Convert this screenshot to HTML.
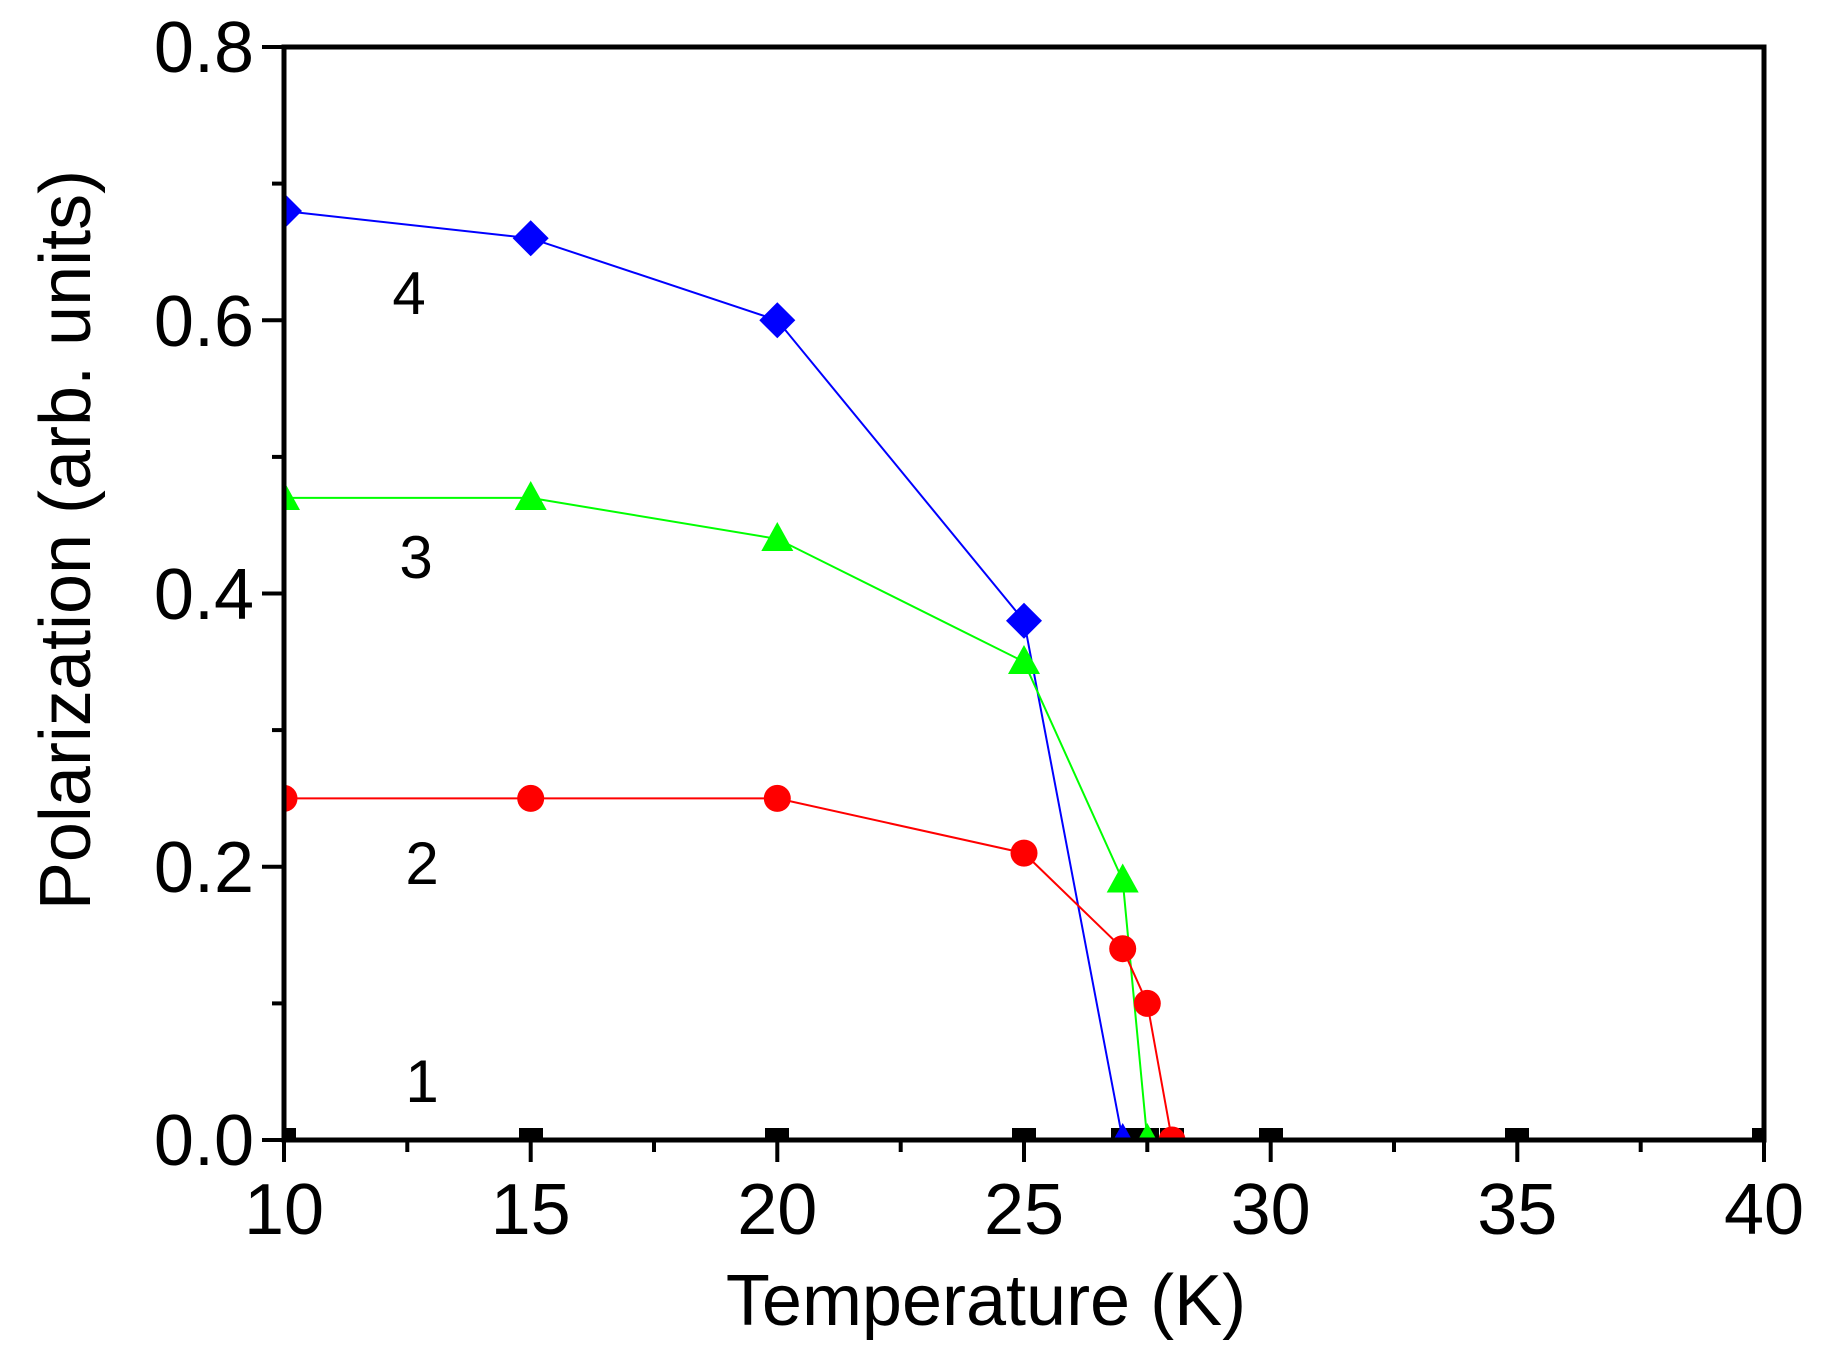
<!DOCTYPE html>
<html><head><style>body{margin:0;background:#fff}svg{display:block}</style></head><body>
<svg width="1829" height="1364" xmlns="http://www.w3.org/2000/svg" font-family="Liberation Sans, Arial, sans-serif">
<defs><clipPath id="c"><rect x="284" y="47" width="1480" height="1093"/></clipPath></defs>
<g clip-path="url(#c)">
<g fill="#000">
<rect x="272" y="1128" width="24" height="24"/><rect x="519" y="1128" width="24" height="24"/><rect x="765" y="1128" width="24" height="24"/><rect x="1012" y="1128" width="24" height="24"/><rect x="1111" y="1128" width="24" height="24"/><rect x="1135" y="1128" width="24" height="24"/><rect x="1160" y="1128" width="24" height="24"/><rect x="1259" y="1128" width="24" height="24"/><rect x="1505" y="1128" width="24" height="24"/><rect x="1752" y="1128" width="24" height="24"/>
</g>
<polyline fill="none" stroke="#0000ff" stroke-width="2" points="284,211 530.7,238.3 777.3,320.3 1024,620.8 1122.7,1140"/>
<g fill="#0000ff">
<polygon points="284,193 302,211 284,229 266,211"/>
<polygon points="530.7,220.3 548.7,238.3 530.7,256.3 512.7,238.3"/>
<polygon points="777.3,302.3 795.3,320.3 777.3,338.3 759.3,320.3"/>
<polygon points="1024,602.8 1042,620.8 1024,638.8 1006,620.8"/>
<polygon points="1122.7,1123 1138.7,1152 1106.7,1152"/>
</g>
<polyline fill="none" stroke="#00ff00" stroke-width="2" points="284,497.9 530.7,497.9 777.3,538.9 1024,661.8 1122.7,880.4 1147.3,1140"/>
<g fill="#00ff00">
<polygon points="284,481 300,510 268,510"/>
<polygon points="530.7,481 546.7,510 514.7,510"/>
<polygon points="777.3,522 793.3,551 761.3,551"/>
<polygon points="1024,645 1040,674 1008,674"/>
<polygon points="1122.7,863.5 1138.7,892.5 1106.7,892.5"/>
<polygon points="1147.3,1123 1163.3,1152 1131.3,1152"/>
</g>
<polyline fill="none" stroke="#ff0000" stroke-width="2" points="284,798.4 530.7,798.4 777.3,798.4 1024,853.1 1122.7,948.7 1147.3,1003.4 1172,1140"/>
<g fill="#ff0000">
<circle cx="284" cy="798.4" r="13.5"/><circle cx="530.7" cy="798.4" r="13.5"/><circle cx="777.3" cy="798.4" r="13.5"/><circle cx="1024" cy="853.1" r="13.5"/><circle cx="1122.7" cy="948.7" r="13.5"/><circle cx="1147.3" cy="1003.4" r="13.5"/><circle cx="1172" cy="1140" r="13.5"/>
</g>
</g>
<rect x="284" y="47" width="1480" height="1093" fill="none" stroke="#000" stroke-width="5"/>
<g stroke="#000" stroke-width="4">
<line x1="284" y1="1140" x2="284" y2="1162"/><line x1="530.7" y1="1140" x2="530.7" y2="1162"/><line x1="777.3" y1="1140" x2="777.3" y2="1162"/><line x1="1024" y1="1140" x2="1024" y2="1162"/><line x1="1270.7" y1="1140" x2="1270.7" y2="1162"/><line x1="1517.3" y1="1140" x2="1517.3" y2="1162"/><line x1="1764" y1="1140" x2="1764" y2="1162"/>
<line x1="407.3" y1="1140" x2="407.3" y2="1152"/><line x1="654" y1="1140" x2="654" y2="1152"/><line x1="900.7" y1="1140" x2="900.7" y2="1152"/><line x1="1147.3" y1="1140" x2="1147.3" y2="1152"/><line x1="1394" y1="1140" x2="1394" y2="1152"/><line x1="1640.7" y1="1140" x2="1640.7" y2="1152"/>
<line x1="284" y1="1140" x2="262" y2="1140"/><line x1="284" y1="866.8" x2="262" y2="866.8"/><line x1="284" y1="593.5" x2="262" y2="593.5"/><line x1="284" y1="320.3" x2="262" y2="320.3"/><line x1="284" y1="47" x2="262" y2="47"/>
<line x1="284" y1="1003.4" x2="272" y2="1003.4"/><line x1="284" y1="730.1" x2="272" y2="730.1"/><line x1="284" y1="456.9" x2="272" y2="456.9"/><line x1="284" y1="183.6" x2="272" y2="183.6"/>
</g>
<g font-size="72" text-anchor="middle">
<text x="284" y="1234">10</text><text x="530.7" y="1234">15</text><text x="777.3" y="1234">20</text><text x="1024" y="1234">25</text><text x="1270.7" y="1234">30</text><text x="1517.3" y="1234">35</text><text x="1764" y="1234">40</text>
</g>
<g font-size="72" text-anchor="end">
<text x="254" y="1165">0.0</text><text x="254" y="892">0.2</text><text x="254" y="619">0.4</text><text x="254" y="346">0.6</text><text x="254" y="72">0.8</text>
</g>
<text x="986" y="1325" font-size="72" text-anchor="middle">Temperature (K)</text>
<text transform="translate(90,540) rotate(-90)" font-size="72" text-anchor="middle">Polarization (arb. units)</text>
<g font-size="60" text-anchor="middle">
<text x="409" y="314">4</text><text x="416" y="578">3</text><text x="422" y="884">2</text><text x="422" y="1102">1</text>
</g>
</svg>
</body></html>
